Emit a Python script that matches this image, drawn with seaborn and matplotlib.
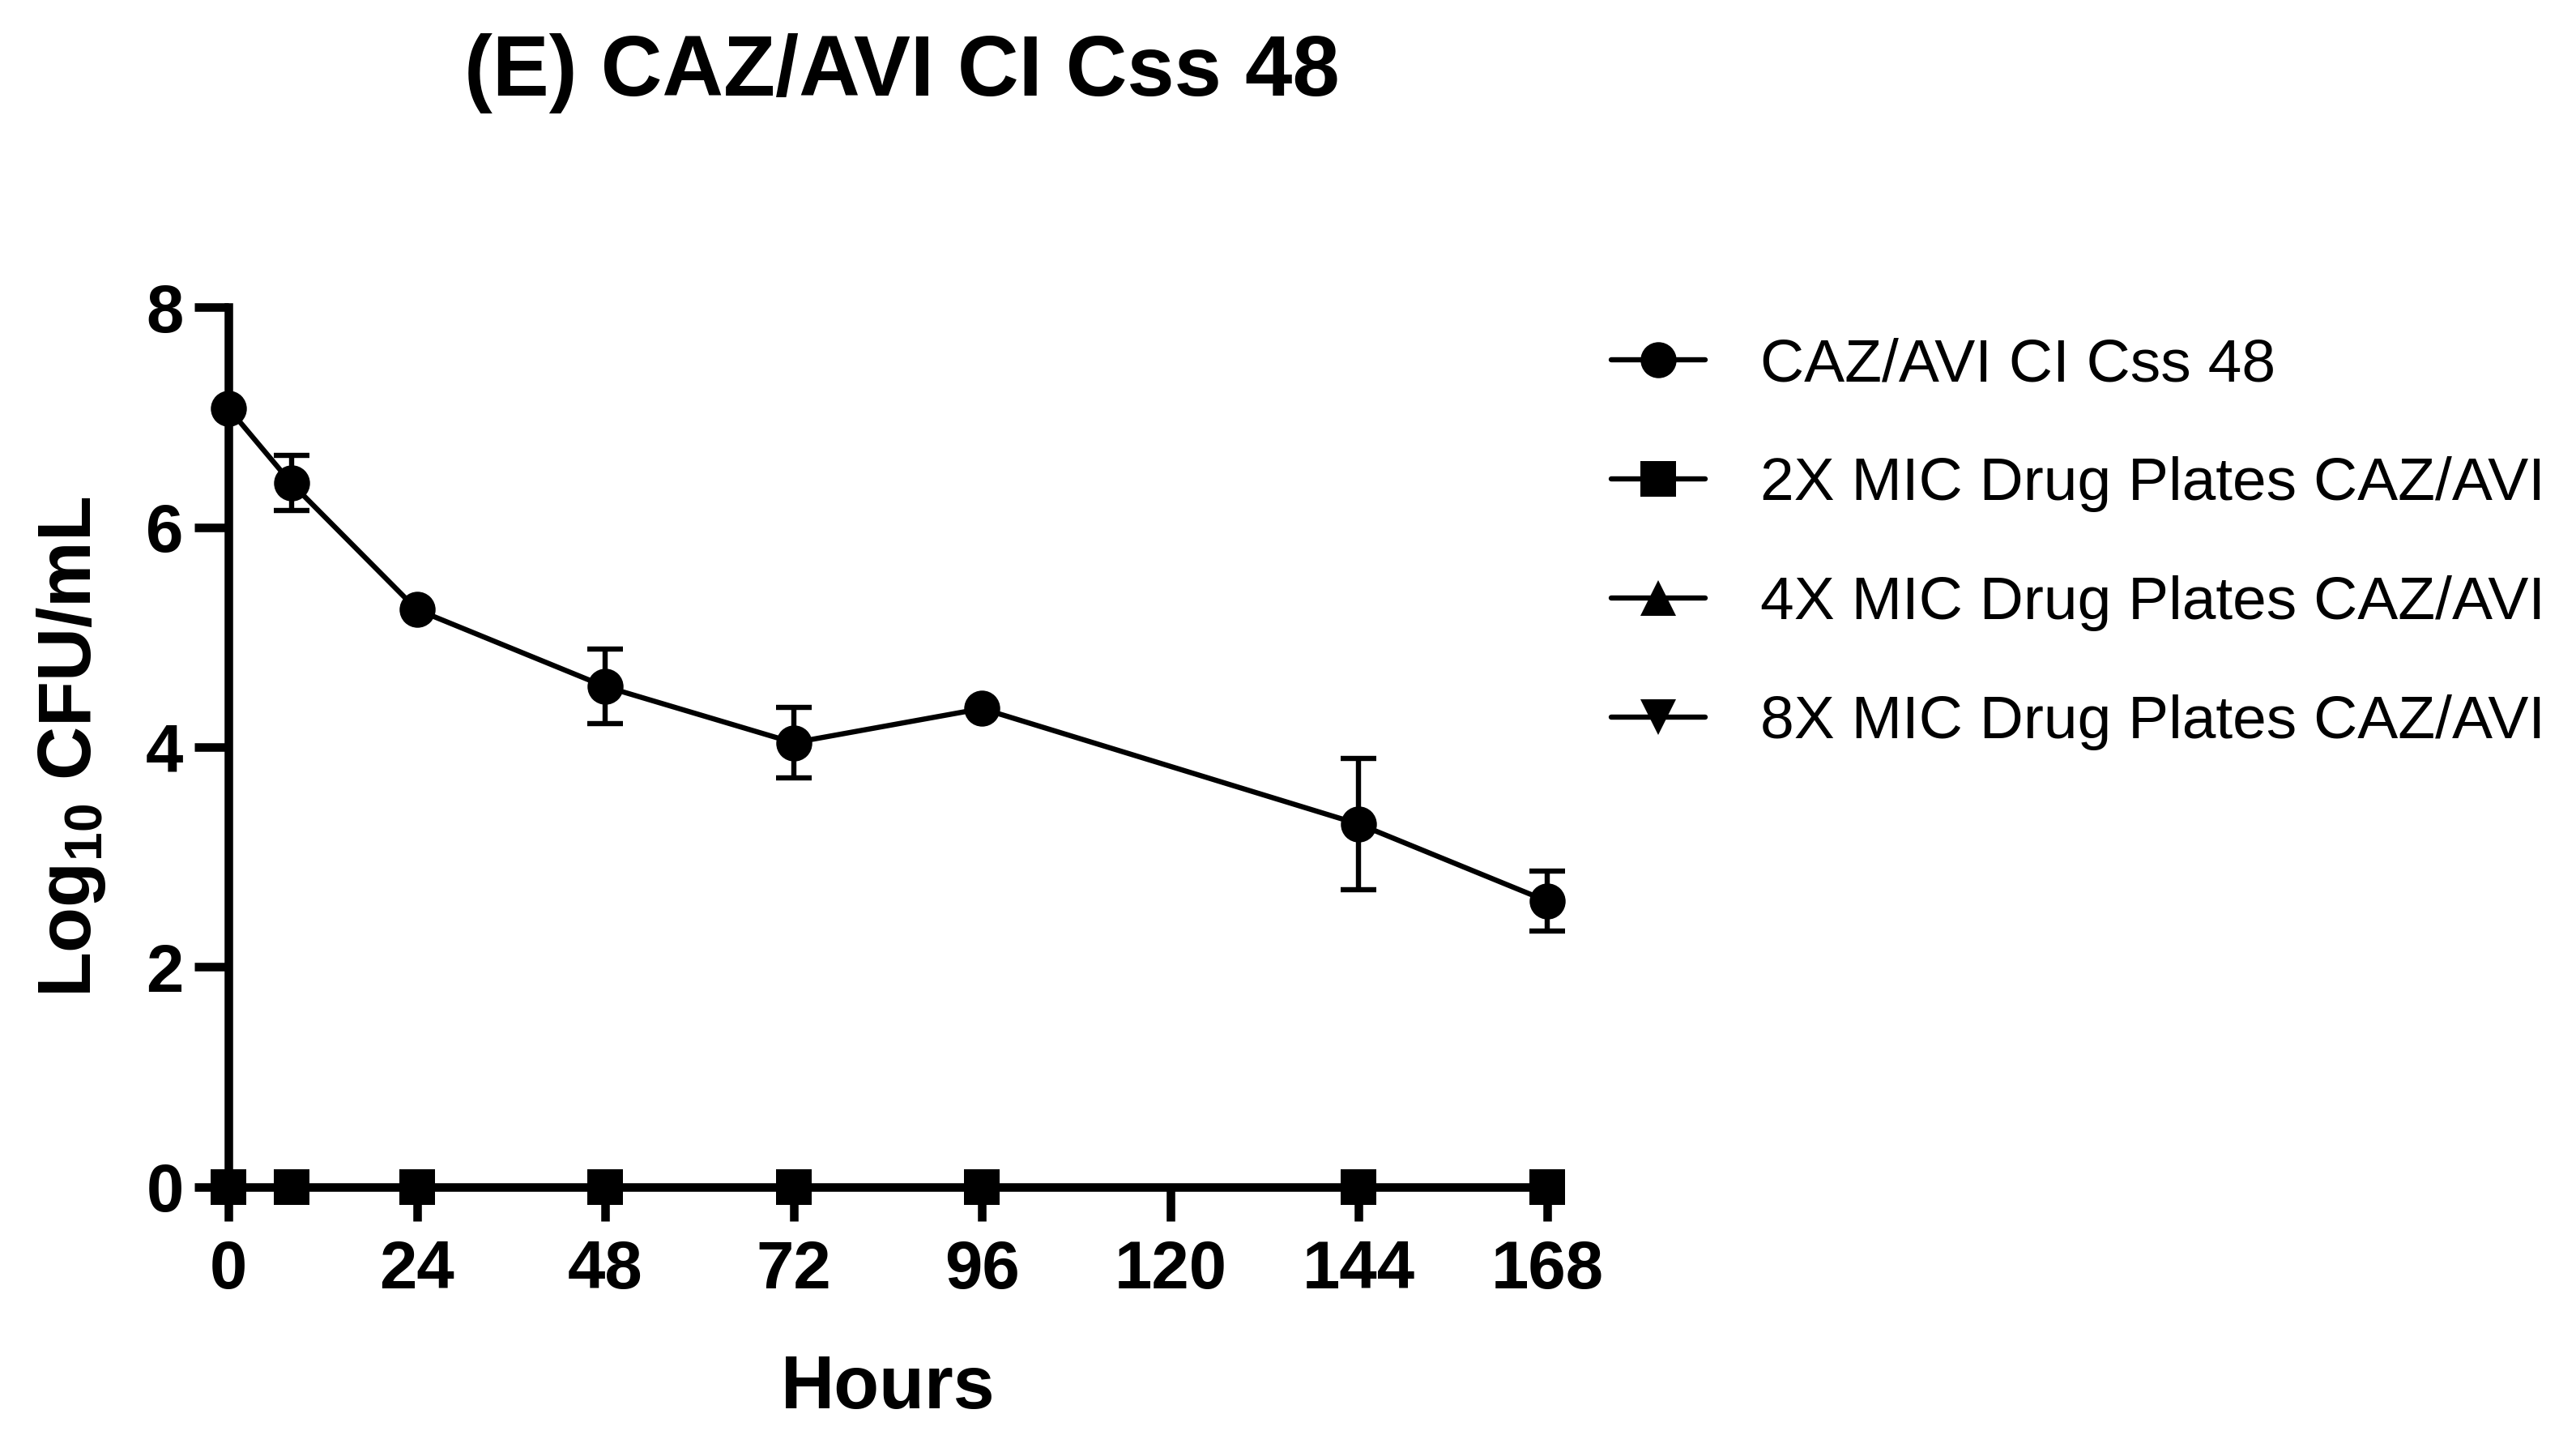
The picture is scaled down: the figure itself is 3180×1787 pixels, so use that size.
import numpy as np
import pandas as pd
import matplotlib
matplotlib.use('Agg')
import matplotlib.pyplot as plt
import seaborn as sns


# data (log10 CFU/mL, mean and SD)
hours = [0, 8, 24, 48, 72, 96, 144, 168]
caz_avi = [7.08, 6.40, 5.25, 4.55, 4.04, 4.35, 3.30, 2.60]
caz_avi_sd = [0.0, 0.25, 0.0, 0.34, 0.32, 0.0, 0.60, 0.27]
plates_2x = [0, 0, 0, 0, 0, 0, 0, 0]
plates_4x = [0, 0, 0, 0, 0, 0, 0, 0]
plates_8x = [0, 0, 0, 0, 0, 0, 0, 0]

series_names = ['CAZ/AVI CI Css 48',
                '2X MIC Drug Plates CAZ/AVI',
                '4X MIC Drug Plates CAZ/AVI',
                '8X MIC Drug Plates CAZ/AVI']
series_markers = ['o', 's', '^', 'v']

title = '(E) CAZ/AVI CI Css 48'
x_label = 'Hours'
y_label = 'Log$_{10}$ CFU/mL'
x_ticks = [0, 24, 48, 72, 96, 120, 144, 168]
y_ticks = [0, 2, 4, 6, 8]


# long form table for seaborn
rows = []
for name, vals in zip(series_names, [caz_avi, plates_2x, plates_4x, plates_8x]):
    for h, v in zip(hours, vals):
        rows.append({'Hours': h, 'value': v, 'series': name})
df = pd.DataFrame(rows)

sns.set_style('ticks')
plt.rcParams['font.family'] = ['Liberation Sans', 'DejaVu Sans']
plt.rcParams['mathtext.default'] = 'regular'
# plain black everywhere, like the original
for key in ['text.color', 'axes.labelcolor', 'axes.edgecolor',
            'xtick.color', 'ytick.color']:
    plt.rcParams[key] = 'black'

fig = plt.figure(figsize=(15.9, 8.935), dpi=200)
ax = fig.add_axes([0.0887, 0.1802, 0.5119, 0.6077])

sns.lineplot(data=df, x='Hours', y='value', hue='series', style='series',
             hue_order=series_names, style_order=series_names,
             palette=['black'] * 4, markers=series_markers, dashes=False,
             markersize=16, linewidth=2.3, markeredgecolor='black',
             markeredgewidth=0, clip_on=False, ax=ax)

# error bars (SD) only where they were drawn
mask = np.array(caz_avi_sd) > 0
ax.errorbar(np.array(hours)[mask], np.array(caz_avi)[mask],
            yerr=np.array(caz_avi_sd)[mask], fmt='none', ecolor='black',
            elinewidth=2.3, capsize=8, capthick=2.3, clip_on=False, zorder=1)

ax.set_xlim(0, 168)
ax.set_ylim(0, 8)
ax.set_xticks(x_ticks)
ax.set_yticks(y_ticks)
sns.despine(ax=ax)
for side in ['left', 'bottom']:
    ax.spines[side].set_linewidth(3.8)
    ax.spines[side].set_color('black')
ax.tick_params(axis='both', length=15, width=3.8, labelsize=30, colors='black')
ax.tick_params(axis='x', pad=8)
ax.tick_params(axis='y', pad=5)
for lab in ax.get_xticklabels() + ax.get_yticklabels():
    lab.set_fontweight('bold')

ax.set_xlabel(x_label, fontsize=33, fontweight='bold', labelpad=23)
ax.set_ylabel(y_label, fontsize=33, fontweight='bold', labelpad=17)

fig.text(0.350, 0.934, title, ha='center', va='baseline',
         fontsize=37.7, fontweight='bold')

sns.move_legend(ax, 'upper left', bbox_to_anchor=(0.6255, 0.767),
                bbox_transform=fig.transFigure, frameon=False, title='',
                fontsize=27, handlelength=1.55, handletextpad=0.9,
                labelspacing=1.04, borderpad=0, borderaxespad=0)

fig.savefig('out.png', dpi=200)
